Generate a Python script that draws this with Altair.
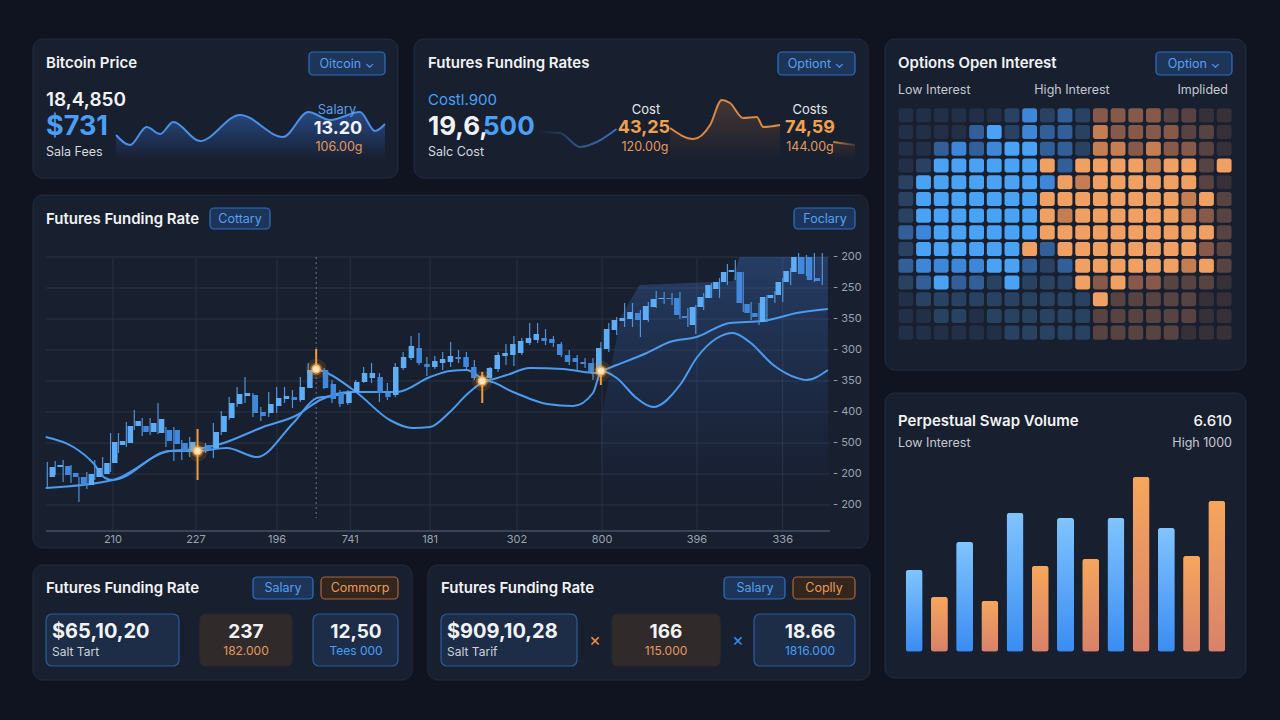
import altair as alt
import pandas as pd

FONT = "Inter"
BG = "#0f1420"
CARD = "#181f2f"
CARD_STROKE = "#232c3e"
WHITE = "#f1f3f6"
BLUE = "#4a9ff5"
ORANGE = "#ee9a52"
MUTED = "#c3c9d3"
GRID = "#283244"

# ---------------- main candlestick chart data ----------------
candle_day = [0, 1, 2, 3, 4, 5, 6, 7, 8, 9, 10, 11, 12, 13, 14, 15, 16, 17, 18,
              20, 21, 22, 23, 24, 25, 26, 27, 28, 29, 30, 31, 32, 33,
              35, 36, 37, 38, 39, 40, 41, 42, 43, 44, 45, 46, 47, 48, 49, 50, 51, 52, 53, 54,
              56, 57, 58, 59, 60, 61, 62, 63, 64, 65, 66, 67, 68, 69, 70, 71, 72, 73, 74, 75, 76, 77,
              78, 79, 80, 81, 82, 83, 84, 85, 86, 87, 88, 89, 90, 91, 92, 93, 94, 95, 96, 97, 98]
candle_open = [54, 64, 65, 58, 54, 46, 54, 57, 68, 86, 88, 105, 105, 99, 98, 101, 101, 88, 81,
               86, 83, 99, 113, 127, 135, 136, 119, 118, 125, 132, 134, 131, 143,
               161, 147, 138, 128, 139, 149, 153, 154, 138, 136, 163, 173, 183, 167, 164, 168, 169, 174, 174, 164,
               153, 162, 175, 176, 178, 188, 191, 193, 192, 187, 176, 173, 169, 168, 159, 182, 201, 210, 212, 218, 211, 224,
               232, 233, 233, 215, 206, 224, 233, 242, 249, 259, 259, 227, 218, 209, 233, 236, 249, 259, 274, 274, 253]
candle_close = [64, 66, 56, 54, 46, 57, 63, 68, 89, 90, 105, 110, 99, 108, 112, 90, 87, 80, 89,
                81, 99, 115, 128, 137, 138, 118, 115, 127, 133, 135, 131, 144, 161,
                143, 132, 127, 139, 149, 158, 158, 138, 134, 164, 174, 185, 168, 164, 170, 172, 175, 172, 164, 153,
                163, 176, 178, 187, 190, 193, 197, 190, 188, 176, 169, 169, 167, 159, 183, 202, 211, 213, 219, 211, 225, 232,
                233, 232, 216, 213, 224, 234, 246, 249, 259, 261, 228, 218, 214, 234, 236, 249, 260, 274, 257, 251, 250]
candle_high = [69, 70, 71, 66, 54, 59, 71, 74, 98, 98, 109, 121, 113, 113, 128, 104, 104, 91, 94,
               88, 108, 120, 134, 144, 154, 138, 124, 139, 144, 144, 141, 154, 168,
               163, 151, 141, 141, 151, 164, 168, 158, 148, 168, 179, 195, 198, 174, 175, 179, 189, 181, 179, 171,
               164, 179, 187, 195, 193, 208, 208, 202, 195, 189, 181, 176, 173, 173, 189, 208, 214, 228, 228, 221, 229, 240,
               239, 238, 239, 223, 226, 238, 248, 253, 267, 271, 259, 229, 228, 236, 240, 253, 263, 278, 276, 278, 278]
candle_low = [44, 56, 49, 48, 29, 42, 51, 54, 59, 78, 84, 101, 95, 96, 97, 84, 70, 71, 74,
              78, 73, 96, 111, 124, 128, 114, 110, 114, 118, 128, 123, 129, 143,
              142, 128, 124, 126, 138, 148, 148, 129, 131, 134, 161, 171, 166, 155, 162, 161, 164, 168, 162, 151,
              149, 159, 166, 165, 176, 186, 188, 186, 184, 174, 166, 160, 163, 151, 159, 179, 196, 204, 204, 194, 209, 223,
              227, 226, 212, 204, 197, 221, 233, 233, 246, 251, 219, 211, 206, 209, 228, 229, 246, 257, 255, 249, 246]

signal_day = [19, 34, 55, 70]
signal_val = [80, 162, 150, 160]
signal_hi = [102, 182, 159, 158]
signal_lo = [51, 162, 128, 146]

ma_day = [-0.2, 8.3, 15.5, 18.9, 21.5, 27.3, 31.6, 34.5, 38.3, 44.2, 48.4, 50.9, 53, 55.6, 58.1, 61,
          65.2, 69.5, 70.1, 72, 75.8, 78.7, 82.1, 86.3, 90.5, 94.8, 98.7]
ma_val = [43, 51, 80, 82, 86, 104, 116, 131, 139, 139, 154, 160, 161, 151, 156, 163,
          162, 158, 160, 166, 178, 189, 194, 208, 210, 218, 222]
wave1_day = [-0.2, 3.3, 5.8, 7.3, 8.3, 15.5, 18.9, 22.7, 26.5, 31.1, 34.1, 36.1, 38.3]
wave1_val = [94, 84, 68, 53, 51, 80, 80, 83, 74, 108, 133, 135, 139]
wave2_day = [34.1, 35.4, 39.2, 43.3, 46.2, 48.4, 50.9, 53.4, 55.6, 58.9, 63.2, 66.5, 69, 70.1,
             72, 74.5, 76.6, 80, 82.1, 84.7, 86.7, 88.8, 91.8, 94.8, 96, 98.7]
wave2_val = [162, 158, 138, 111, 103, 104, 119, 139, 150, 139, 127, 125, 138, 160,
             153, 133, 124, 146, 173, 193, 198, 189, 166, 153, 151, 161]

band_day = [70, 72.5, 74.9, 86.7, 87.5, 98.7]
band_top = [110, 214, 246, 250, 274, 274]

grid_v = [274, 243, 212, 181, 150, 119, 88, 57, 26]
y_labels = ["200", "250", "350", "300", "350", "400", "500", "200", "200"]
x_label_day = [8.3, 18.8, 29.05, 38.3, 48.4, 59.4, 70.15, 82.15, 93.0]
x_labels = ["210", "227", "196", "741", "181", "302", "800", "396", "336"]

# ---------------- sparklines ----------------
btc_t = [0, 5.2, 11.4, 16.4, 21.3, 31.2, 46.1, 62.1, 71.5, 79.6, 90.7, 96.3, 100]
btc_v = [25, 15, 33, 26, 38, 19, 45, 23, 48, 40, 48, 29, 36]
fund_t = [0, 6.3, 12.7, 18, 24.3, 32.7, 41.3, 48.7, 54, 57.7, 60.3, 64.5, 68.8, 70.9, 76.2, 82.5, 93.1, 100]
fund_v = [28, 27, 13, 18, 31, 33, 32, 21, 35, 60, 57, 42, 43, 33, 35, 30, 18, 15]

# ---------------- heatmap (0-4 blue levels, 5-9 orange levels) ----------------
heat_rows = [
    [0, 0, 0, 0, 0, 0, 1, 3, 1, 2, 1, 7, 7, 7, 7, 6, 6, 5, 5],
    [0, 0, 0, 0, 2, 4, 1, 3, 2, 2, 1, 8, 7, 7, 7, 7, 6, 6, 5],
    [0, 0, 2, 3, 2, 3, 4, 4, 2, 2, 1, 8, 8, 7, 8, 7, 7, 6, 5],
    [0, 1, 4, 4, 4, 4, 4, 4, 9, 2, 9, 9, 9, 9, 8, 9, 9, 6, 9],
    [1, 4, 4, 4, 4, 4, 4, 4, 3, 9, 8, 9, 9, 9, 9, 9, 9, 6, 5],
    [1, 4, 4, 4, 4, 4, 4, 4, 9, 9, 9, 9, 9, 9, 9, 9, 8, 9, 6],
    [1, 4, 4, 4, 4, 4, 4, 4, 9, 8, 9, 9, 9, 9, 9, 9, 8, 7, 6],
    [2, 3, 4, 4, 4, 4, 4, 4, 9, 9, 9, 9, 9, 9, 9, 9, 9, 9, 6],
    [1, 4, 4, 4, 4, 4, 4, 9, 2, 9, 9, 9, 9, 9, 9, 9, 9, 7, 6],
    [2, 3, 3, 3, 3, 4, 4, 2, 1, 2, 9, 9, 9, 9, 9, 9, 8, 9, 6],
    [1, 2, 4, 2, 2, 1, 4, 1, 1, 1, 9, 7, 9, 7, 7, 6, 6, 6, 5],
    [0, 1, 1, 1, 1, 1, 1, 1, 1, 1, 1, 9, 6, 6, 6, 6, 6, 5, 5],
    [0, 0, 1, 1, 0, 1, 1, 1, 1, 1, 1, 6, 6, 6, 6, 6, 6, 5, 5],
    [0, 0, 0, 0, 0, 0, 1, 1, 1, 1, 1, 6, 6, 6, 6, 6, 5, 5, 5],
]
heat_colors = ["#232f46", "#2a4262", "#335f99", "#3d86d8", "#4aa2f4",
               "#363139", "#564342", "#86594a", "#c57d52", "#f0a062"]

# ---------------- volume bars ----------------
vol_idx = list(range(13))
vol_val = [82, 55, 110, 51, 139, 86, 134, 93, 134, 175, 124, 96, 151]
vol_kind = ["blue", "orange", "blue", "orange", "blue", "orange", "blue", "orange",
            "blue", "orange", "blue", "orange", "orange"]

# ---------------- layout (pixels) ----------------
cards = pd.DataFrame({
    "x": [33, 414, 885, 33, 33, 428, 885],
    "y": [39, 39, 39, 195, 565, 565, 393],
    "x2": [398, 868, 1246, 868, 412, 870, 1246],
    "y2": [178, 178, 370, 548, 680, 680, 678],
})
buttons = pd.DataFrame({
    "x": [309, 778, 1156, 210, 794, 253, 724, 321, 793],
    "y": [52, 52, 52, 208, 208, 577, 577, 577, 577],
    "x2": [385, 855, 1232, 270, 855, 313, 785, 398, 855],
    "y2": [75, 75, 75, 229, 229, 599, 599, 599, 599],
    "fill": ["#1c3558"] * 7 + ["#33261f"] * 2,
    "stroke": ["#2f6fc4"] * 7 + ["#a8663a"] * 2,
})
boxes = pd.DataFrame({
    "x": [46, 200, 313, 441, 612, 754],
    "y": [614, 614, 614, 614, 614, 614],
    "x2": [179, 292, 398, 577, 720, 855],
    "y2": [666, 666, 666, 666, 666, 666],
    "fill": ["#1d2d48", "#302a2b", "#1d2d48", "#1d2d48", "#302a2b", "#1d2d48"],
    "stroke": ["#2f64ad", "#302a2b", "#2f64ad", "#2f64ad", "#302a2b", "#2f64ad"],
})

T = []
def t(x, y, s, color, size, align="left", weight=400):
    T.append(dict(x=x, y=y, text=s, color=color, size=size, align=align, weight=weight))

for (x, y, s) in [(46, 63, "Bitcoin Price"), (428, 63, "Futures Funding Rates"),
                  (898, 63, "Options Open Interest"), (46, 219, "Futures Funding Rate"),
                  (46, 588, "Futures Funding Rate"), (441, 588, "Futures Funding Rate"),
                  (898, 421, "Perpestual Swap Volume")]:
    t(x, y, s, WHITE, 15, "left", 600)
# card 1
t(46, 100, "18,4,850", WHITE, 19, "left", 600)
t(46, 127, "$731", BLUE, 27, "left", 700)
t(46, 152, "Sala Fees", "#d5d9e0", 12.5)
t(337, 110, "Salary", "#5a9ee8", 13, "center")
t(338, 129, "13.20", WHITE, 18, "center", 700)
t(339, 147, "106.00g", "#e39a5c", 12.5, "center")
# card 2
t(428, 100, "Costl.900", BLUE, 15)
t(428, 127, "19,6,", WHITE, 26, "left", 700)
t(483, 127, "500", BLUE, 26, "left", 700)
t(428, 152, "Salc Cost", "#d5d9e0", 12.5)
t(646, 110, "Cost", "#e5e7eb", 13, "center")
t(644, 128, "43,25", "#f0a050", 18, "center", 700)
t(645, 147, "120.00g", "#e39a5c", 12.5, "center")
t(810, 110, "Costs", "#e5e7eb", 13, "center")
t(810, 128, "74,59", "#f0a050", 18, "center", 700)
t(810, 147, "144.00g", "#e39a5c", 12.5, "center")
# buttons
for (x, y, s, c) in [(347, 64, "Oitcoin ⌄", "#5aa0f2"), (816, 64, "Optiont ⌄", "#5aa0f2"),
                     (1194, 64, "Option ⌄", "#5aa0f2"), (240, 219, "Cottary", "#5aa0f2"),
                     (825, 219, "Foclary", "#5aa0f2"), (283, 588, "Salary", "#5aa0f2"),
                     (755, 588, "Salary", "#5aa0f2"), (360, 588, "Commorp", "#eb9a52"),
                     (824, 588, "Coplly", "#eb9a52")]:
    t(x, y, s, c, 12.5, "center")
# card 6 / 7 labels
t(898, 90, "Low Interest", MUTED, 12.5)
t(1072, 90, "High Interest", MUTED, 12.5, "center")
t(1228, 90, "Implided", MUTED, 12.5, "right")
t(1232, 421, "6.610", WHITE, 15, "right", 500)
t(898, 443, "Low Interest", MUTED, 12.5)
t(1232, 443, "High 1000", MUTED, 12.5, "right")
# bottom cards
t(52, 632, "$65,10,20", WHITE, 20, "left", 700)
t(52, 652, "Salt Tart", "#cbd2dc", 12)
t(246, 632, "237", WHITE, 19, "center", 700)
t(246, 651, "182.000", "#e39a5c", 12, "center")
t(356, 632, "12,50", WHITE, 19, "center", 700)
t(356, 651, "Tees 000", BLUE, 12, "center")
t(447, 632, "$909,10,28", WHITE, 20, "left", 700)
t(447, 652, "Salt Tarif", "#cbd2dc", 12)
t(595, 641, "×", "#e8914a", 18, "center")
t(666, 632, "166", WHITE, 19, "center", 700)
t(666, 651, "115.000", "#e39a5c", 12, "center")
t(738, 641, "×", "#3b8beb", 18, "center")
t(810, 632, "18.66", WHITE, 19, "center", 700)
t(810, 651, "1816.000", BLUE, 12, "center")
texts = pd.DataFrame(T)


# ---------------- helpers ----------------
def sc(domain, rng):
    return alt.Scale(domain=domain, range=rng, nice=False, zero=False)

def PX(f):
    return alt.X(f"{f}:Q", scale=None, axis=None)

def PY(f):
    return alt.Y(f"{f}:Q", scale=None, axis=None)

MX = sc([0, 98], [47.3, 822.3])
MY = sc([0, 274], [531, 257])

def mx(f):
    return alt.X(f"{f}:Q", scale=MX, axis=None)

def my(f):
    return alt.Y(f"{f}:Q", scale=MY, axis=None)

def grad(stops, horizontal=False):
    return alt.LinearGradient(gradient="linear", x1=0, y1=0,
                              x2=1 if horizontal else 0, y2=0 if horizontal else 1,
                              stops=[alt.GradientStop(offset=o, color=c) for o, c in stops])

layers = []

# cards
layers.append(alt.Chart(cards).mark_rect(cornerRadius=10, fill=CARD, stroke=CARD_STROKE, strokeWidth=1)
              .encode(x=PX("x"), x2="x2", y=PY("y"), y2="y2"))

# ---- main chart ----
candles = pd.DataFrame({"d": candle_day, "open": candle_open, "close": candle_close,
                        "high": candle_high, "low": candle_low})
gridh = pd.DataFrame({"v": grid_v, "label": y_labels})
gridv = pd.DataFrame({"d": x_label_day, "label": x_labels})

layers.append(alt.Chart(gridh).mark_rule(color=GRID, strokeWidth=1)
              .encode(y=my("v"), x=alt.value(46), x2=alt.value(830)))
layers.append(alt.Chart(gridv).mark_rule(color=GRID, strokeWidth=1)
              .encode(x=mx("d"), y=alt.value(257), y2=alt.value(531)))
layers.append(alt.Chart(pd.DataFrame({"v": [0]})).mark_rule(color="#3a4456", strokeWidth=2)
              .encode(y=my("v"), x=alt.value(46), x2=alt.value(830)))

band = pd.DataFrame({"d": band_day, "top": band_top})
layers.append(alt.Chart(band).mark_area(
    interpolate="linear",
    color=grad([(0, "rgba(70,130,220,0.30)"), (0.45, "rgba(60,115,210,0.14)"), (0.85, "rgba(60,115,210,0.0)")]))
    .encode(x=mx("d"), y=my("top"), y2=alt.value(470)))

layers.append(alt.Chart(pd.DataFrame({"d": [34]})).mark_rule(color="#6b7589", strokeDash=[2, 3], strokeWidth=1)
              .encode(x=mx("d"), y=alt.value(257), y2=alt.value(518)))

for dd, vv in [(ma_day, ma_val), (wave1_day, wave1_val), (wave2_day, wave2_val)]:
    df = pd.DataFrame({"d": dd, "v": vv})
    layers.append(alt.Chart(df).mark_line(interpolate="monotone", color="#4b9bf0", strokeWidth=2)
                  .encode(x=mx("d"), y=my("v")))

layers.append(alt.Chart(candles).mark_rule(color="#4f93d8", strokeWidth=1.2)
              .encode(x=mx("d"), y=my("low"), y2="high"))
layers.append(alt.Chart(candles).mark_bar(width=5.5)
              .encode(x=mx("d"), y=my("open"), y2="close",
                      color=alt.condition("datum.close >= datum.open", alt.value("#5fadf7"), alt.value("#4288dc"))))

sig = pd.DataFrame({"d": signal_day, "v": signal_val, "hi": signal_hi, "lo": signal_lo})
layers.append(alt.Chart(sig).mark_rule(color="#f39a45", strokeWidth=2)
              .encode(x=mx("d"), y=my("lo"), y2="hi"))
layers.append(alt.Chart(sig).mark_circle(size=420, color="#f59e0b", opacity=0.14)
              .encode(x=mx("d"), y=my("v")))
layers.append(alt.Chart(sig).mark_circle(size=160, color="#f8a84a", opacity=0.35)
              .encode(x=mx("d"), y=my("v")))
layers.append(alt.Chart(sig).mark_circle(size=60, color="#ffe7c4", opacity=1, stroke="#ffb25e", strokeWidth=1.5)
              .encode(x=mx("d"), y=my("v")))

layers.append(alt.Chart(gridh).transform_calculate(lab="'- ' + datum.label")
              .mark_text(align="left", baseline="middle", font=FONT, fontSize=11, color="#9aa3b2")
              .encode(y=my("v"), x=alt.value(833), text="lab:N"))
layers.append(alt.Chart(gridv).mark_text(align="center", baseline="middle", font=FONT, fontSize=11, color="#9aa3b2")
              .encode(x=mx("d"), y=alt.value(540), text="label:N"))

# ---- bitcoin sparkline ----
SX1 = sc([0, 100], [116, 385])
SY1 = sc([0, 60], [160, 100])
btc = pd.DataFrame({"t": btc_t, "v": btc_v})
layers.append(alt.Chart(btc).mark_area(
    interpolate="monotone",
    color=grad([(0, "rgba(59,130,246,0.42)"), (1, "rgba(59,130,246,0.0)")]))
    .encode(x=alt.X("t:Q", scale=SX1, axis=None), y=alt.Y("v:Q", scale=SY1, axis=None), y2=alt.value(168)))
layers.append(alt.Chart(btc).mark_line(interpolate="monotone", color="#4a90e8", strokeWidth=2)
              .encode(x=alt.X("t:Q", scale=SX1, axis=None), y=alt.Y("v:Q", scale=SY1, axis=None)))

# ---- funding sparkline (line hidden behind the two value labels) ----
SX2 = sc([0, 100], [540, 855])
fund = pd.DataFrame({"t": fund_t, "v": fund_v})
fund_blue = fund[fund["t"] <= 25]
fund_orange = fund[(fund["t"] >= 41) & (fund["t"] <= 77)]
fund_tail = fund[fund["t"] >= 93]
FX = alt.X("t:Q", scale=SX2, axis=None)
FY = alt.Y("v:Q", scale=SY1, axis=None)
layers.append(alt.Chart(fund_orange).mark_area(
    interpolate="monotone",
    color=grad([(0, "rgba(224,138,69,0.22)"), (1, "rgba(224,138,69,0.0)")]))
    .encode(x=FX, y=FY, y2=alt.value(165)))
layers.append(alt.Chart(fund_tail).mark_area(
    interpolate="monotone",
    color=grad([(0, "rgba(224,138,69,0.12)"), (1, "rgba(224,138,69,0.0)")]))
    .encode(x=FX, y=FY, y2=alt.value(165)))
layers.append(alt.Chart(fund_blue).mark_line(
    interpolate="monotone", strokeWidth=2,
    stroke=grad([(0, "rgba(50,100,170,0.05)"), (0.45, "rgba(55,110,185,0.6)"), (1, "#3a72bb")], horizontal=True))
    .encode(x=FX, y=FY))
layers.append(alt.Chart(fund_orange).mark_line(interpolate="monotone", strokeWidth=2, color="#dc8843")
              .encode(x=FX, y=FY))
layers.append(alt.Chart(fund_tail).mark_line(
    interpolate="monotone", strokeWidth=2,
    stroke=grad([(0, "#c9803f"), (1, "rgba(201,128,63,0.2)")], horizontal=True))
    .encode(x=FX, y=FY))

# ---- heatmap ----
cells = []
for r, row in enumerate(heat_rows):
    for c, lv in enumerate(row):
        cells.append({"col": c, "row": r, "lvl": lv})
heat = pd.DataFrame(cells)
HX = sc([-0.5, 18.5], [897, 1233])
HY = sc([-0.5, 13.5], [107, 341])
layers.append(alt.Chart(heat).transform_calculate(
    c0="datum.col - 0.42", c1="datum.col + 0.42", r0="datum.row - 0.42", r1="datum.row + 0.42")
    .mark_rect(cornerRadius=2.5)
    .encode(x=alt.X("c0:Q", scale=HX, axis=None), x2="c1:Q",
            y=alt.Y("r0:Q", scale=HY, axis=None), y2="r1:Q",
            color=alt.Color("lvl:O", scale=alt.Scale(domain=list(range(10)), range=heat_colors), legend=None)))

# ---- volume bars ----
vol = pd.DataFrame({"i": vol_idx, "v": vol_val, "kind": vol_kind})
VX = sc([0, 12], [909.2, 1221.8])
VY = sc([0, 200], [651.7, 451.7])
layers.append(alt.Chart(vol[vol["kind"] == "blue"]).mark_bar(
    width=17, cornerRadius=3,
    color=grad([(0, "#80c4ff"), (1, "#3a8cf2")]))
    .encode(x=alt.X("i:Q", scale=VX, axis=None), y=alt.Y("v:Q", scale=VY, axis=None)))
layers.append(alt.Chart(vol[vol["kind"] == "orange"]).mark_bar(
    width=17, cornerRadius=3,
    color=grad([(0, "#f6a65c"), (1, "#d7826a")]))
    .encode(x=alt.X("i:Q", scale=VX, axis=None), y=alt.Y("v:Q", scale=VY, axis=None)))

# ---- buttons & stat boxes ----
layers.append(alt.Chart(buttons).mark_rect(cornerRadius=4, strokeWidth=1.2)
              .encode(x=PX("x"), x2="x2", y=PY("y"), y2="y2",
                      fill=alt.Fill("fill:N", scale=None), stroke=alt.Stroke("stroke:N", scale=None)))
layers.append(alt.Chart(boxes).mark_rect(cornerRadius=6, strokeWidth=1.2, strokeOpacity=0.85)
              .encode(x=PX("x"), x2="x2", y=PY("y"), y2="y2",
                      fill=alt.Fill("fill:N", scale=None), stroke=alt.Stroke("stroke:N", scale=None)))

# ---- texts ----
for (al, wt), sub in texts.groupby(["align", "weight"]):
    layers.append(alt.Chart(sub).mark_text(align=al, baseline="middle", font=FONT, fontWeight=int(wt))
                  .encode(x=PX("x"), y=PY("y"), text="text:N",
                          color=alt.Color("color:N", scale=None), size=alt.Size("size:Q", scale=None)))

chart = (alt.layer(*layers)
         .resolve_scale(x="independent", y="independent", color="independent")
         .properties(width=1280, height=720, padding=0, autosize=alt.AutoSizeParams(type="none"))
         .configure(background=BG, font=FONT)
         .configure_view(strokeWidth=0))

chart.save("out.html", embed_options={"renderer": "svg", "actions": False})
